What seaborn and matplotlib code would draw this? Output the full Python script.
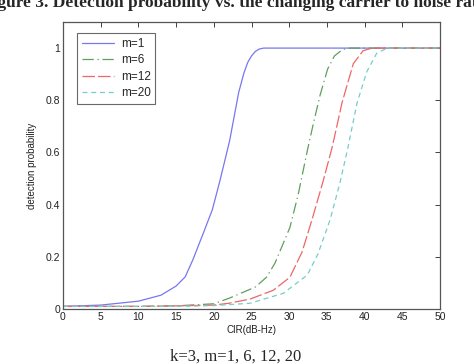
import matplotlib
matplotlib.use("Agg")
import matplotlib.pyplot as plt
import seaborn as sns
import pandas as pd
from matplotlib.lines import Line2D

# ---- data ----
m1_x = [0, 5, 10, 13, 15, 16.2, 17.2, 18.6, 19.8, 20.8, 22.1, 23.3, 24.0, 24.5, 25.0, 25.5, 26.0, 26.6, 50]
m1_p = [0.01, 0.015, 0.03, 0.053, 0.088, 0.123, 0.187, 0.29, 0.38, 0.49, 0.645, 0.83, 0.905, 0.945, 0.97, 0.987, 0.996, 1.0, 1.0]

m6_x = [0, 10, 15, 20, 22.1, 25.5, 27, 28.1, 29, 30.1, 31.2, 32.5, 33.2, 34.1, 35.1, 36, 37.1, 38, 50]
m6_p = [0.01, 0.01, 0.012, 0.02, 0.042, 0.084, 0.122, 0.175, 0.237, 0.313, 0.44, 0.62, 0.71, 0.82, 0.92, 0.97, 0.995, 1.0, 1.0]

m12_x = [0, 10, 15, 20, 22, 24.8, 27.9, 30.1, 31.7, 33, 34.5, 35.7, 37, 38.5, 39.8, 41, 50]
m12_p = [0.01, 0.01, 0.012, 0.015, 0.022, 0.038, 0.072, 0.122, 0.218, 0.34, 0.49, 0.62, 0.79, 0.94, 0.99, 1.0, 1.0]

m20_x = [0, 10, 15, 20, 24.8, 29.2, 32.4, 33.8, 35.4, 36.7, 37.8, 39, 40.3, 41.6, 43, 50]
m20_p = [0.01, 0.01, 0.01, 0.013, 0.022, 0.06, 0.13, 0.21, 0.34, 0.48, 0.62, 0.79, 0.91, 0.98, 1.0, 1.0]

labels = ["m=1", "m=6", "m=12", "m=20"]
x_ticks = [0, 5, 10, 15, 20, 25, 30, 35, 40, 45, 50]
y_ticks = [0, 0.2, 0.4, 0.6, 0.8, 1]
y_tick_labels = ["0", "0.2", "0.4", "0.6", "0.8", "1"]

frames = []
for lab, xs, ps in zip(labels, [m1_x, m6_x, m12_x, m20_x], [m1_p, m6_p, m12_p, m20_p]):
    frames.append(pd.DataFrame({"CIR": xs, "p": ps, "m": lab}))
df = pd.concat(frames, ignore_index=True)

sns.set_theme(style="white")
plt.rcParams["font.family"] = ["Liberation Sans", "DejaVu Sans"]

palette = {"m=1": "#7777ee", "m=6": "#5f9f5f", "m=12": "#ee6666", "m=20": "#77cccc"}
dashes = {"m=1": "", "m=6": (9, 3, 1, 3), "m=12": (10, 2.5), "m=20": (4, 3)}

fig = plt.figure(figsize=(4.74, 3.64), dpi=100)
ax = fig.add_axes([63 / 474, 1 - 309 / 364, (440 - 63) / 474, (309 - 22) / 364])

sns.lineplot(data=df, x="CIR", y="p", hue="m", style="m", palette=palette,
             dashes=dashes, hue_order=labels, style_order=labels,
             linewidth=0.9, ax=ax, legend=False, sort=False, estimator=None)

ax.set_xlim(0, 50)
ax.set_ylim(0, 1.1)
ax.set_xticks(x_ticks)
ax.set_yticks(y_ticks)
ax.set_yticklabels(y_tick_labels)
ax.tick_params(direction="in", length=3.5, width=0.6, top=True, right=True,
               labelsize=7.5, colors="#222222", pad=2)
for s in ax.spines.values():
    s.set_color("#555555")
    s.set_linewidth(0.9)
ax.set_xlabel("CIR(dB-Hz)", fontsize=7, labelpad=2, color="#222222")
ax.set_ylabel("detection probability", fontsize=7, labelpad=6, color="#222222")

handles = []
for lab in labels:
    d = dashes[lab]
    h = Line2D([0], [0], color=palette[lab], lw=0.9)
    if d:
        h.set_dashes(d)
    handles.append(h)
leg = ax.legend(handles, labels, loc="upper left", bbox_to_anchor=(14 / 377, (309 - 33) / 287),
                borderaxespad=0, fontsize=8.5, frameon=True, fancybox=False,
                handlelength=2.7, borderpad=0.4, labelspacing=0.38, handletextpad=0.6)
leg.get_frame().set_edgecolor("#444444")
leg.get_frame().set_linewidth(0.8)

fig.text(0.5, 1 - 7 / 364, "Figure 3. Detection probability vs. the changing carrier to noise ratio",
         ha="center", va="baseline", fontsize=12.5, fontweight="bold",
         family=["Liberation Serif", "DejaVu Serif"])
fig.text(0.497, 1 - 361 / 364, "k=3, m=1, 6, 12, 20", ha="center", va="baseline",
         fontsize=12, family=["Liberation Serif", "DejaVu Serif"])

fig.savefig("out.png", dpi=100)
